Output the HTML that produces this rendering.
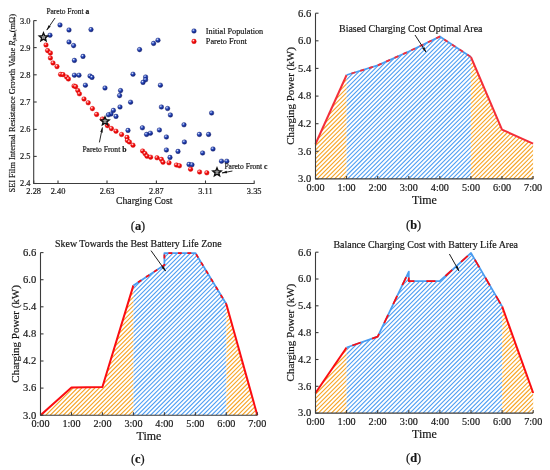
<!DOCTYPE html>
<html><head><meta charset="utf-8"><title>Figure</title>
<style>
html,body{margin:0;padding:0;background:#fff;}
body{width:550px;height:470px;overflow:hidden;}
svg{display:block;font-family:"Liberation Serif","Times New Roman",serif;fill:#151515;}
text{stroke:#151515;stroke-width:0.18px;}
.ax{stroke:#3c3c3c;stroke-width:1.1;fill:none;}
.t8{font-size:8.4px;}
.t10{font-size:10.2px;}
</style></head><body>
<svg width="550" height="470" viewBox="0 0 550 470">
<defs>
<radialGradient id="gb" cx="0.35" cy="0.3" r="0.7"><stop offset="0" stop-color="#ffffff"/><stop offset="0.18" stop-color="#8fa4e8"/><stop offset="0.45" stop-color="#2748b8"/><stop offset="1" stop-color="#101f78"/></radialGradient>
<radialGradient id="gr" cx="0.35" cy="0.3" r="0.7"><stop offset="0" stop-color="#ffffff"/><stop offset="0.18" stop-color="#ff9a9a"/><stop offset="0.45" stop-color="#f41414"/><stop offset="1" stop-color="#d40000"/></radialGradient>
<pattern id="ho" width="3.1" height="3.1" patternUnits="userSpaceOnUse" patternTransform="rotate(-45)"><rect width="3.1" height="3.1" fill="#fff"/><line x1="0" y1="1.55" x2="3.1" y2="1.55" stroke="#f3a73a" stroke-width="0.95"/></pattern>
<pattern id="hb" width="3.1" height="3.1" patternUnits="userSpaceOnUse" patternTransform="rotate(-45)"><rect width="3.1" height="3.1" fill="#fff"/><line x1="0" y1="1.55" x2="3.1" y2="1.55" stroke="#59a2ee" stroke-width="0.95"/></pattern>
<marker id="ah" markerWidth="6" markerHeight="4" refX="5" refY="2" orient="auto" markerUnits="userSpaceOnUse"><path d="M0,0.7 L5.5,2 L0,3.3 Z" fill="#111"/></marker>
</defs>
<rect width="550" height="470" fill="#fff"/>

<g id="pa">
<path class="ax" d="M33.7,20.6 V183.5 H254.5"/>
<path class="ax" d="M33.7,20.6 h3"/>
<text class="t8" x="30.5" y="23.5" text-anchor="end">3.0</text>
<path class="ax" d="M33.7,47.6 h3"/>
<text class="t8" x="30.5" y="50.5" text-anchor="end">2.9</text>
<path class="ax" d="M33.7,74.8 h3"/>
<text class="t8" x="30.5" y="77.7" text-anchor="end">2.8</text>
<path class="ax" d="M33.7,102.0 h3"/>
<text class="t8" x="30.5" y="104.9" text-anchor="end">2.7</text>
<path class="ax" d="M33.7,129.4 h3"/>
<text class="t8" x="30.5" y="132.3" text-anchor="end">2.6</text>
<path class="ax" d="M33.7,156.4 h3"/>
<text class="t8" x="30.5" y="159.3" text-anchor="end">2.5</text>
<path class="ax" d="M33.7,183.5 h3"/>
<text class="t8" x="30.5" y="186.4" text-anchor="end">2.4</text>
<path class="ax" d="M33.7,183.5 v-3"/>
<text class="t8" x="33.7" y="194.4" text-anchor="middle">2.28</text>
<path class="ax" d="M58.0,183.5 v-3"/>
<text class="t8" x="58.0" y="194.4" text-anchor="middle">2.40</text>
<path class="ax" d="M107.0,183.5 v-3"/>
<text class="t8" x="107.0" y="194.4" text-anchor="middle">2.63</text>
<path class="ax" d="M156.4,183.5 v-3"/>
<text class="t8" x="156.4" y="194.4" text-anchor="middle">2.87</text>
<path class="ax" d="M205.5,183.5 v-3"/>
<text class="t8" x="205.5" y="194.4" text-anchor="middle">3.11</text>
<path class="ax" d="M254.2,183.5 v-3"/>
<text class="t8" x="254.2" y="194.4" text-anchor="middle">3.35</text>
<text x="144.2" y="204.1" text-anchor="middle" font-size="9.75">Charging Cost</text>
<text transform="translate(14.5,192.5) rotate(-90)" font-size="7.8" textLength="178.5" lengthAdjust="spacingAndGlyphs">SEI Film Internal Resistance Growth Value <tspan font-style="italic">R</tspan><tspan font-style="italic" font-size="5" dy="1.5">film</tspan><tspan dy="-1.5">(mΩ)</tspan></text>
<circle cx="60.0" cy="25.0" r="2.3" fill="url(#gb)" stroke="#0f1c70" stroke-width="0.4"/>
<circle cx="69.0" cy="30.0" r="2.3" fill="url(#gb)" stroke="#0f1c70" stroke-width="0.4"/>
<circle cx="91.0" cy="29.6" r="2.3" fill="url(#gb)" stroke="#0f1c70" stroke-width="0.4"/>
<circle cx="50.0" cy="35.2" r="2.3" fill="url(#gb)" stroke="#0f1c70" stroke-width="0.4"/>
<circle cx="69.0" cy="42.0" r="2.3" fill="url(#gb)" stroke="#0f1c70" stroke-width="0.4"/>
<circle cx="73.6" cy="45.6" r="2.3" fill="url(#gb)" stroke="#0f1c70" stroke-width="0.4"/>
<circle cx="139.6" cy="49.6" r="2.3" fill="url(#gb)" stroke="#0f1c70" stroke-width="0.4"/>
<circle cx="83.0" cy="56.4" r="2.3" fill="url(#gb)" stroke="#0f1c70" stroke-width="0.4"/>
<circle cx="74.4" cy="60.4" r="2.3" fill="url(#gb)" stroke="#0f1c70" stroke-width="0.4"/>
<circle cx="74.4" cy="75.2" r="2.3" fill="url(#gb)" stroke="#0f1c70" stroke-width="0.4"/>
<circle cx="79.0" cy="75.2" r="2.3" fill="url(#gb)" stroke="#0f1c70" stroke-width="0.4"/>
<circle cx="90.0" cy="76.0" r="2.3" fill="url(#gb)" stroke="#0f1c70" stroke-width="0.4"/>
<circle cx="92.0" cy="77.4" r="2.3" fill="url(#gb)" stroke="#0f1c70" stroke-width="0.4"/>
<circle cx="133.0" cy="74.2" r="2.3" fill="url(#gb)" stroke="#0f1c70" stroke-width="0.4"/>
<circle cx="85.4" cy="85.2" r="2.3" fill="url(#gb)" stroke="#0f1c70" stroke-width="0.4"/>
<circle cx="105.0" cy="88.0" r="2.3" fill="url(#gb)" stroke="#0f1c70" stroke-width="0.4"/>
<circle cx="120.6" cy="90.6" r="2.3" fill="url(#gb)" stroke="#0f1c70" stroke-width="0.4"/>
<circle cx="119.6" cy="95.6" r="2.3" fill="url(#gb)" stroke="#0f1c70" stroke-width="0.4"/>
<circle cx="130.6" cy="102.2" r="2.3" fill="url(#gb)" stroke="#0f1c70" stroke-width="0.4"/>
<circle cx="120.0" cy="107.0" r="2.3" fill="url(#gb)" stroke="#0f1c70" stroke-width="0.4"/>
<circle cx="113.4" cy="110.4" r="2.3" fill="url(#gb)" stroke="#0f1c70" stroke-width="0.4"/>
<circle cx="111.0" cy="114.0" r="2.3" fill="url(#gb)" stroke="#0f1c70" stroke-width="0.4"/>
<circle cx="108.4" cy="114.8" r="2.3" fill="url(#gb)" stroke="#0f1c70" stroke-width="0.4"/>
<circle cx="116.0" cy="116.4" r="2.3" fill="url(#gb)" stroke="#0f1c70" stroke-width="0.4"/>
<circle cx="128.0" cy="130.4" r="2.3" fill="url(#gb)" stroke="#0f1c70" stroke-width="0.4"/>
<circle cx="158.0" cy="40.2" r="2.3" fill="url(#gb)" stroke="#0f1c70" stroke-width="0.4"/>
<circle cx="153.6" cy="43.4" r="2.3" fill="url(#gb)" stroke="#0f1c70" stroke-width="0.4"/>
<circle cx="145.6" cy="77.0" r="2.3" fill="url(#gb)" stroke="#0f1c70" stroke-width="0.4"/>
<circle cx="145.6" cy="79.8" r="2.3" fill="url(#gb)" stroke="#0f1c70" stroke-width="0.4"/>
<circle cx="143.0" cy="82.4" r="2.3" fill="url(#gb)" stroke="#0f1c70" stroke-width="0.4"/>
<circle cx="160.4" cy="85.2" r="2.3" fill="url(#gb)" stroke="#0f1c70" stroke-width="0.4"/>
<circle cx="161.4" cy="107.0" r="2.3" fill="url(#gb)" stroke="#0f1c70" stroke-width="0.4"/>
<circle cx="167.6" cy="108.5" r="2.3" fill="url(#gb)" stroke="#0f1c70" stroke-width="0.4"/>
<circle cx="170.4" cy="115.0" r="2.3" fill="url(#gb)" stroke="#0f1c70" stroke-width="0.4"/>
<circle cx="211.6" cy="113.0" r="2.3" fill="url(#gb)" stroke="#0f1c70" stroke-width="0.4"/>
<circle cx="184.0" cy="124.8" r="2.3" fill="url(#gb)" stroke="#0f1c70" stroke-width="0.4"/>
<circle cx="142.4" cy="127.8" r="2.3" fill="url(#gb)" stroke="#0f1c70" stroke-width="0.4"/>
<circle cx="159.4" cy="130.0" r="2.3" fill="url(#gb)" stroke="#0f1c70" stroke-width="0.4"/>
<circle cx="150.4" cy="133.2" r="2.3" fill="url(#gb)" stroke="#0f1c70" stroke-width="0.4"/>
<circle cx="146.6" cy="134.4" r="2.3" fill="url(#gb)" stroke="#0f1c70" stroke-width="0.4"/>
<circle cx="166.4" cy="137.0" r="2.3" fill="url(#gb)" stroke="#0f1c70" stroke-width="0.4"/>
<circle cx="199.4" cy="134.4" r="2.3" fill="url(#gb)" stroke="#0f1c70" stroke-width="0.4"/>
<circle cx="208.6" cy="134.4" r="2.3" fill="url(#gb)" stroke="#0f1c70" stroke-width="0.4"/>
<circle cx="184.4" cy="142.0" r="2.3" fill="url(#gb)" stroke="#0f1c70" stroke-width="0.4"/>
<circle cx="166.4" cy="150.0" r="2.3" fill="url(#gb)" stroke="#0f1c70" stroke-width="0.4"/>
<circle cx="178.0" cy="151.4" r="2.3" fill="url(#gb)" stroke="#0f1c70" stroke-width="0.4"/>
<circle cx="170.0" cy="157.4" r="2.3" fill="url(#gb)" stroke="#0f1c70" stroke-width="0.4"/>
<circle cx="213.0" cy="149.0" r="2.3" fill="url(#gb)" stroke="#0f1c70" stroke-width="0.4"/>
<circle cx="202.6" cy="153.0" r="2.3" fill="url(#gb)" stroke="#0f1c70" stroke-width="0.4"/>
<circle cx="189.0" cy="164.4" r="2.3" fill="url(#gb)" stroke="#0f1c70" stroke-width="0.4"/>
<circle cx="192.0" cy="164.8" r="2.3" fill="url(#gb)" stroke="#0f1c70" stroke-width="0.4"/>
<circle cx="221.5" cy="161.2" r="2.3" fill="url(#gb)" stroke="#0f1c70" stroke-width="0.4"/>
<circle cx="226.8" cy="161.2" r="2.3" fill="url(#gb)" stroke="#0f1c70" stroke-width="0.4"/>
<circle cx="46.0" cy="45.0" r="2.3" fill="url(#gr)" stroke="#e00000" stroke-width="0.4"/>
<circle cx="47.6" cy="50.6" r="2.3" fill="url(#gr)" stroke="#e00000" stroke-width="0.4"/>
<circle cx="50.4" cy="53.0" r="2.3" fill="url(#gr)" stroke="#e00000" stroke-width="0.4"/>
<circle cx="50.4" cy="58.0" r="2.3" fill="url(#gr)" stroke="#e00000" stroke-width="0.4"/>
<circle cx="53.0" cy="63.0" r="2.3" fill="url(#gr)" stroke="#e00000" stroke-width="0.4"/>
<circle cx="57.0" cy="66.6" r="2.3" fill="url(#gr)" stroke="#e00000" stroke-width="0.4"/>
<circle cx="60.6" cy="74.4" r="2.3" fill="url(#gr)" stroke="#e00000" stroke-width="0.4"/>
<circle cx="63.0" cy="74.6" r="2.3" fill="url(#gr)" stroke="#e00000" stroke-width="0.4"/>
<circle cx="66.6" cy="77.0" r="2.3" fill="url(#gr)" stroke="#e00000" stroke-width="0.4"/>
<circle cx="68.4" cy="79.0" r="2.3" fill="url(#gr)" stroke="#e00000" stroke-width="0.4"/>
<circle cx="74.0" cy="86.0" r="2.3" fill="url(#gr)" stroke="#e00000" stroke-width="0.4"/>
<circle cx="75.6" cy="86.6" r="2.3" fill="url(#gr)" stroke="#e00000" stroke-width="0.4"/>
<circle cx="77.8" cy="90.5" r="2.3" fill="url(#gr)" stroke="#e00000" stroke-width="0.4"/>
<circle cx="79.4" cy="93.8" r="2.3" fill="url(#gr)" stroke="#e00000" stroke-width="0.4"/>
<circle cx="84.0" cy="99.0" r="2.3" fill="url(#gr)" stroke="#e00000" stroke-width="0.4"/>
<circle cx="88.2" cy="102.8" r="2.3" fill="url(#gr)" stroke="#e00000" stroke-width="0.4"/>
<circle cx="92.4" cy="108.6" r="2.3" fill="url(#gr)" stroke="#e00000" stroke-width="0.4"/>
<circle cx="96.6" cy="114.4" r="2.3" fill="url(#gr)" stroke="#e00000" stroke-width="0.4"/>
<circle cx="102.4" cy="119.0" r="2.3" fill="url(#gr)" stroke="#e00000" stroke-width="0.4"/>
<circle cx="107.4" cy="125.6" r="2.3" fill="url(#gr)" stroke="#e00000" stroke-width="0.4"/>
<circle cx="111.4" cy="128.6" r="2.3" fill="url(#gr)" stroke="#e00000" stroke-width="0.4"/>
<circle cx="116.0" cy="131.2" r="2.3" fill="url(#gr)" stroke="#e00000" stroke-width="0.4"/>
<circle cx="121.6" cy="134.5" r="2.3" fill="url(#gr)" stroke="#e00000" stroke-width="0.4"/>
<circle cx="127.0" cy="137.4" r="2.3" fill="url(#gr)" stroke="#e00000" stroke-width="0.4"/>
<circle cx="127.4" cy="140.5" r="2.3" fill="url(#gr)" stroke="#e00000" stroke-width="0.4"/>
<circle cx="129.4" cy="142.0" r="2.3" fill="url(#gr)" stroke="#e00000" stroke-width="0.4"/>
<circle cx="133.0" cy="145.2" r="2.3" fill="url(#gr)" stroke="#e00000" stroke-width="0.4"/>
<circle cx="142.6" cy="151.0" r="2.3" fill="url(#gr)" stroke="#e00000" stroke-width="0.4"/>
<circle cx="145.0" cy="153.6" r="2.3" fill="url(#gr)" stroke="#e00000" stroke-width="0.4"/>
<circle cx="147.0" cy="156.2" r="2.3" fill="url(#gr)" stroke="#e00000" stroke-width="0.4"/>
<circle cx="150.6" cy="157.2" r="2.3" fill="url(#gr)" stroke="#e00000" stroke-width="0.4"/>
<circle cx="157.0" cy="157.8" r="2.3" fill="url(#gr)" stroke="#e00000" stroke-width="0.4"/>
<circle cx="161.4" cy="159.4" r="2.3" fill="url(#gr)" stroke="#e00000" stroke-width="0.4"/>
<circle cx="163.0" cy="162.2" r="2.3" fill="url(#gr)" stroke="#e00000" stroke-width="0.4"/>
<circle cx="169.0" cy="162.8" r="2.3" fill="url(#gr)" stroke="#e00000" stroke-width="0.4"/>
<circle cx="176.4" cy="165.0" r="2.3" fill="url(#gr)" stroke="#e00000" stroke-width="0.4"/>
<circle cx="179.4" cy="165.8" r="2.3" fill="url(#gr)" stroke="#e00000" stroke-width="0.4"/>
<circle cx="190.6" cy="169.2" r="2.3" fill="url(#gr)" stroke="#e00000" stroke-width="0.4"/>
<circle cx="199.6" cy="172.0" r="2.3" fill="url(#gr)" stroke="#e00000" stroke-width="0.4"/>
<circle cx="206.8" cy="172.8" r="2.3" fill="url(#gr)" stroke="#e00000" stroke-width="0.4"/>
<polygon points="43.50,33.05 44.62,35.76 47.54,35.99 45.31,37.89 46.00,40.74 43.50,39.20 41.00,40.74 41.69,37.89 39.46,35.99 42.38,35.76" fill="#fff" stroke="#111" stroke-width="1.5" stroke-linejoin="miter"/>
<polygon points="43.50,35.10 44.09,36.49 45.59,36.62 44.45,37.61 44.79,39.08 43.50,38.30 42.21,39.08 42.55,37.61 41.41,36.62 42.91,36.49" fill="#8a8a8a" stroke="none"/>
<polygon points="105.00,117.05 106.12,119.76 109.04,119.99 106.81,121.89 107.50,124.74 105.00,123.20 102.50,124.74 103.19,121.89 100.96,119.99 103.88,119.76" fill="#fff" stroke="#111" stroke-width="1.5" stroke-linejoin="miter"/>
<polygon points="105.00,119.10 105.59,120.49 107.09,120.62 105.95,121.61 106.29,123.08 105.00,122.30 103.71,123.08 104.05,121.61 102.91,120.62 104.41,120.49" fill="#8a8a8a" stroke="none"/>
<polygon points="217.00,168.05 218.12,170.76 221.04,170.99 218.81,172.89 219.50,175.74 217.00,174.20 214.50,175.74 215.19,172.89 212.96,170.99 215.88,170.76" fill="#fff" stroke="#111" stroke-width="1.5" stroke-linejoin="miter"/>
<polygon points="217.00,170.10 217.59,171.49 219.09,171.62 217.95,172.61 218.29,174.08 217.00,173.30 215.71,174.08 216.05,172.61 214.91,171.62 216.41,171.49" fill="#8a8a8a" stroke="none"/>
<circle cx="194" cy="31" r="2.3" fill="url(#gb)" stroke="#0f1c70" stroke-width="0.4"/><circle cx="194" cy="41.4" r="2.3" fill="url(#gr)" stroke="#e00000" stroke-width="0.4"/>
<text class="t8" x="205.8" y="34.2" textLength="57.4" lengthAdjust="spacingAndGlyphs">Initial Population</text><text class="t8" x="205.8" y="44.4" textLength="41.1" lengthAdjust="spacingAndGlyphs">Pareto Front</text>
<text x="46.4" y="14" font-size="7.3" textLength="42.8" lengthAdjust="spacingAndGlyphs">Pareto Front <tspan font-weight="bold">a</tspan></text>
<line x1="55" y1="18" x2="46.8" y2="30" stroke="#111" stroke-width="0.9" marker-end="url(#ah)"/>
<text x="82.4" y="151.6" font-size="7.3" textLength="44" lengthAdjust="spacingAndGlyphs">Pareto Front <tspan font-weight="bold">b</tspan></text>
<line x1="99.4" y1="142.4" x2="102.4" y2="127.5" stroke="#111" stroke-width="0.9" marker-end="url(#ah)"/>
<text x="224.4" y="168.5" font-size="7.3" textLength="43" lengthAdjust="spacingAndGlyphs">Pareto Front <tspan font-weight="bold">c</tspan></text>
<line x1="232.4" y1="171" x2="222" y2="173" stroke="#111" stroke-width="0.9" marker-end="url(#ah)"/>
<text x="138" y="229.5" text-anchor="middle" font-size="12.4">(<tspan font-weight="bold">a</tspan>)</text>
</g>
<g id="pb">
<clipPath id="pb_c0"><path d="M315.5,178.9 L315.5,144.0 L346.6,75.0 L346.6,178.9 Z"/></clipPath>
<path d="M172.20,179.90 L318.50,33.60 M176.56,179.90 L322.86,33.60 M180.92,179.90 L327.22,33.60 M185.28,179.90 L331.58,33.60 M189.64,179.90 L335.94,33.60 M194.00,179.90 L340.30,33.60 M198.36,179.90 L344.66,33.60 M202.72,179.90 L349.02,33.60 M207.08,179.90 L353.38,33.60 M211.44,179.90 L357.74,33.60 M215.80,179.90 L362.10,33.60 M220.16,179.90 L366.46,33.60 M224.52,179.90 L370.82,33.60 M228.88,179.90 L375.18,33.60 M233.24,179.90 L379.54,33.60 M237.60,179.90 L383.90,33.60 M241.96,179.90 L388.26,33.60 M246.32,179.90 L392.62,33.60 M250.68,179.90 L396.98,33.60 M255.04,179.90 L401.34,33.60 M259.40,179.90 L405.70,33.60 M263.76,179.90 L410.06,33.60 M268.12,179.90 L414.42,33.60 M272.48,179.90 L418.78,33.60 M276.84,179.90 L423.14,33.60 M281.20,179.90 L427.50,33.60 M285.56,179.90 L431.86,33.60 M289.92,179.90 L436.22,33.60 M294.28,179.90 L440.58,33.60 M298.64,179.90 L444.94,33.60 M303.00,179.90 L449.30,33.60 M307.36,179.90 L453.66,33.60 M311.72,179.90 L458.02,33.60 M316.08,179.90 L462.38,33.60 M320.44,179.90 L466.74,33.60 M324.80,179.90 L471.10,33.60 M329.16,179.90 L475.46,33.60 M333.52,179.90 L479.82,33.60 M337.88,179.90 L484.18,33.60 M342.24,179.90 L488.54,33.60 M346.60,179.90 L492.90,33.60" clip-path="url(#pb_c0)" stroke="#f5a325" stroke-width="1.10" fill="none"/>
<clipPath id="pb_c1"><path d="M346.6,178.9 L346.6,75.0 L377.7,65.4 L408.8,51.5 L439.8,36.6 L470.9,57.0 L470.9,178.9 Z"/></clipPath>
<path d="M202.72,179.90 L349.02,33.60 M207.08,179.90 L353.38,33.60 M211.44,179.90 L357.74,33.60 M215.80,179.90 L362.10,33.60 M220.16,179.90 L366.46,33.60 M224.52,179.90 L370.82,33.60 M228.88,179.90 L375.18,33.60 M233.24,179.90 L379.54,33.60 M237.60,179.90 L383.90,33.60 M241.96,179.90 L388.26,33.60 M246.32,179.90 L392.62,33.60 M250.68,179.90 L396.98,33.60 M255.04,179.90 L401.34,33.60 M259.40,179.90 L405.70,33.60 M263.76,179.90 L410.06,33.60 M268.12,179.90 L414.42,33.60 M272.48,179.90 L418.78,33.60 M276.84,179.90 L423.14,33.60 M281.20,179.90 L427.50,33.60 M285.56,179.90 L431.86,33.60 M289.92,179.90 L436.22,33.60 M294.28,179.90 L440.58,33.60 M298.64,179.90 L444.94,33.60 M303.00,179.90 L449.30,33.60 M307.36,179.90 L453.66,33.60 M311.72,179.90 L458.02,33.60 M316.08,179.90 L462.38,33.60 M320.44,179.90 L466.74,33.60 M324.80,179.90 L471.10,33.60 M329.16,179.90 L475.46,33.60 M333.52,179.90 L479.82,33.60 M337.88,179.90 L484.18,33.60 M342.24,179.90 L488.54,33.60 M346.60,179.90 L492.90,33.60 M350.96,179.90 L497.26,33.60 M355.32,179.90 L501.62,33.60 M359.68,179.90 L505.98,33.60 M364.04,179.90 L510.34,33.60 M368.40,179.90 L514.70,33.60 M372.76,179.90 L519.06,33.60 M377.12,179.90 L523.42,33.60 M381.48,179.90 L527.78,33.60 M385.84,179.90 L532.14,33.60 M390.20,179.90 L536.50,33.60 M394.56,179.90 L540.86,33.60 M398.92,179.90 L545.22,33.60 M403.28,179.90 L549.58,33.60 M407.64,179.90 L553.94,33.60 M412.00,179.90 L558.30,33.60 M416.36,179.90 L562.66,33.60 M420.72,179.90 L567.02,33.60 M425.08,179.90 L571.38,33.60 M429.44,179.90 L575.74,33.60 M433.80,179.90 L580.10,33.60 M438.16,179.90 L584.46,33.60 M442.52,179.90 L588.82,33.60 M446.88,179.90 L593.18,33.60 M451.24,179.90 L597.54,33.60 M455.60,179.90 L601.90,33.60 M459.96,179.90 L606.26,33.60 M464.32,179.90 L610.62,33.60 M468.68,179.90 L614.98,33.60 M473.04,179.90 L619.34,33.60" clip-path="url(#pb_c1)" stroke="#4f9ef2" stroke-width="1.10" fill="none"/>
<clipPath id="pb_c2"><path d="M470.9,178.9 L470.9,57.0 L502.0,129.6 L533.1,143.6 L533.1,178.9 Z"/></clipPath>
<path d="M324.80,179.90 L471.10,33.60 M329.16,179.90 L475.46,33.60 M333.52,179.90 L479.82,33.60 M337.88,179.90 L484.18,33.60 M342.24,179.90 L488.54,33.60 M346.60,179.90 L492.90,33.60 M350.96,179.90 L497.26,33.60 M355.32,179.90 L501.62,33.60 M359.68,179.90 L505.98,33.60 M364.04,179.90 L510.34,33.60 M368.40,179.90 L514.70,33.60 M372.76,179.90 L519.06,33.60 M377.12,179.90 L523.42,33.60 M381.48,179.90 L527.78,33.60 M385.84,179.90 L532.14,33.60 M390.20,179.90 L536.50,33.60 M394.56,179.90 L540.86,33.60 M398.92,179.90 L545.22,33.60 M403.28,179.90 L549.58,33.60 M407.64,179.90 L553.94,33.60 M412.00,179.90 L558.30,33.60 M416.36,179.90 L562.66,33.60 M420.72,179.90 L567.02,33.60 M425.08,179.90 L571.38,33.60 M429.44,179.90 L575.74,33.60 M433.80,179.90 L580.10,33.60 M438.16,179.90 L584.46,33.60 M442.52,179.90 L588.82,33.60 M446.88,179.90 L593.18,33.60 M451.24,179.90 L597.54,33.60 M455.60,179.90 L601.90,33.60 M459.96,179.90 L606.26,33.60 M464.32,179.90 L610.62,33.60 M468.68,179.90 L614.98,33.60 M473.04,179.90 L619.34,33.60 M477.40,179.90 L623.70,33.60 M481.76,179.90 L628.06,33.60 M486.12,179.90 L632.42,33.60 M490.48,179.90 L636.78,33.60 M494.84,179.90 L641.14,33.60 M499.20,179.90 L645.50,33.60 M503.56,179.90 L649.86,33.60 M507.92,179.90 L654.22,33.60 M512.28,179.90 L658.58,33.60 M516.64,179.90 L662.94,33.60 M521.00,179.90 L667.30,33.60 M525.36,179.90 L671.66,33.60 M529.72,179.90 L676.02,33.60 M534.08,179.90 L680.38,33.60" clip-path="url(#pb_c2)" stroke="#f5a325" stroke-width="1.10" fill="none"/>
<path d="M315.5,144.0 L346.6,75.0" fill="none" stroke="#f42f3a" stroke-width="2" stroke-linejoin="round"/>
<path d="M470.9,57.0 L502.0,129.6 L533.1,143.6" fill="none" stroke="#f42f3a" stroke-width="2" stroke-linejoin="round"/>
<path d="M346.6,75.0 L377.7,65.4 L408.8,51.5 L439.8,36.6 L470.9,57.0" fill="none" stroke="#4a9cf0" stroke-width="1.75" stroke-linejoin="round"/>
<path d="M346.6,75.0 L377.7,65.4 L408.8,51.5 L439.8,36.6 L470.9,57.0" fill="none" stroke="#f42f3a" stroke-width="1.75" stroke-dasharray="4.2 5" stroke-dashoffset="4.2" stroke-linejoin="round"/>
<path class="ax" d="M315.5,13.2 V178.9 H533.1"/>
<path class="ax" d="M315.5,13.2 h3"/>
<text class="t10" x="298.1" y="16.5" textLength="13.2" lengthAdjust="spacingAndGlyphs">6.6</text>
<path class="ax" d="M315.5,40.8 h3"/>
<text class="t10" x="298.1" y="44.1" textLength="13.2" lengthAdjust="spacingAndGlyphs">6.0</text>
<path class="ax" d="M315.5,68.4 h3"/>
<text class="t10" x="298.1" y="71.7" textLength="13.2" lengthAdjust="spacingAndGlyphs">5.4</text>
<path class="ax" d="M315.5,96.1 h3"/>
<text class="t10" x="298.1" y="99.4" textLength="13.2" lengthAdjust="spacingAndGlyphs">4.8</text>
<path class="ax" d="M315.5,123.7 h3"/>
<text class="t10" x="298.1" y="127.0" textLength="13.2" lengthAdjust="spacingAndGlyphs">4.2</text>
<path class="ax" d="M315.5,151.3 h3"/>
<text class="t10" x="298.1" y="154.6" textLength="13.2" lengthAdjust="spacingAndGlyphs">3.6</text>
<path class="ax" d="M315.5,178.9 h3"/>
<text class="t10" x="298.1" y="182.2" textLength="13.2" lengthAdjust="spacingAndGlyphs">3.0</text>
<path class="ax" d="M315.5,178.9 v-3"/>
<text class="t10" x="306.4" y="191.0" textLength="18.1" lengthAdjust="spacingAndGlyphs">0:00</text>
<path class="ax" d="M346.6,178.9 v-3"/>
<text class="t10" x="337.5" y="191.0" textLength="18.1" lengthAdjust="spacingAndGlyphs">1:00</text>
<path class="ax" d="M377.7,178.9 v-3"/>
<text class="t10" x="368.6" y="191.0" textLength="18.1" lengthAdjust="spacingAndGlyphs">2:00</text>
<path class="ax" d="M408.8,178.9 v-3"/>
<text class="t10" x="399.7" y="191.0" textLength="18.1" lengthAdjust="spacingAndGlyphs">3:00</text>
<path class="ax" d="M439.8,178.9 v-3"/>
<text class="t10" x="430.8" y="191.0" textLength="18.1" lengthAdjust="spacingAndGlyphs">4:00</text>
<path class="ax" d="M470.9,178.9 v-3"/>
<text class="t10" x="461.9" y="191.0" textLength="18.1" lengthAdjust="spacingAndGlyphs">5:00</text>
<path class="ax" d="M502.0,178.9 v-3"/>
<text class="t10" x="493.0" y="191.0" textLength="18.1" lengthAdjust="spacingAndGlyphs">6:00</text>
<path class="ax" d="M533.1,178.9 v-3"/>
<text class="t10" x="524.1" y="191.0" textLength="18.1" lengthAdjust="spacingAndGlyphs">7:00</text>
<text x="412.0" y="203.9" font-size="11.8" textLength="24.8" lengthAdjust="spacingAndGlyphs">Time</text>
<text transform="translate(293.8,144.8) rotate(-90)" font-size="11" textLength="97.6" lengthAdjust="spacingAndGlyphs">Charging Power (kW)</text>
<text x="339.0" y="31.6" font-size="9.9" textLength="143.5" lengthAdjust="spacingAndGlyphs" stroke="#1a1a1a" stroke-width="0.10">Biased Charging Cost Optimal Area</text>
<line x1="415.0" y1="35.0" x2="426.0" y2="52.0" stroke="#111" stroke-width="0.95" marker-end="url(#ah)"/>
<text x="413.6" y="228.6" text-anchor="middle" font-size="12.4">(<tspan font-weight="bold">b</tspan>)</text>
</g>
<g id="pc">
<clipPath id="pc_c0"><path d="M40.5,415.2 L40.5,415.2 L71.5,387.4 L102.4,387.0 L133.4,285.4 L133.4,415.2 Z"/></clipPath>
<path d="M-125.14,416.20 L41.06,250.00 M-120.78,416.20 L45.42,250.00 M-116.42,416.20 L49.78,250.00 M-112.06,416.20 L54.14,250.00 M-107.70,416.20 L58.50,250.00 M-103.34,416.20 L62.86,250.00 M-98.98,416.20 L67.22,250.00 M-94.62,416.20 L71.58,250.00 M-90.26,416.20 L75.94,250.00 M-85.90,416.20 L80.30,250.00 M-81.54,416.20 L84.66,250.00 M-77.18,416.20 L89.02,250.00 M-72.82,416.20 L93.38,250.00 M-68.46,416.20 L97.74,250.00 M-64.10,416.20 L102.10,250.00 M-59.74,416.20 L106.46,250.00 M-55.38,416.20 L110.82,250.00 M-51.02,416.20 L115.18,250.00 M-46.66,416.20 L119.54,250.00 M-42.30,416.20 L123.90,250.00 M-37.94,416.20 L128.26,250.00 M-33.58,416.20 L132.62,250.00 M-29.22,416.20 L136.98,250.00 M-24.86,416.20 L141.34,250.00 M-20.50,416.20 L145.70,250.00 M-16.14,416.20 L150.06,250.00 M-11.78,416.20 L154.42,250.00 M-7.42,416.20 L158.78,250.00 M-3.06,416.20 L163.14,250.00 M1.30,416.20 L167.50,250.00 M5.66,416.20 L171.86,250.00 M10.02,416.20 L176.22,250.00 M14.38,416.20 L180.58,250.00 M18.74,416.20 L184.94,250.00 M23.10,416.20 L189.30,250.00 M27.46,416.20 L193.66,250.00 M31.82,416.20 L198.02,250.00 M36.18,416.20 L202.38,250.00 M40.54,416.20 L206.74,250.00 M44.90,416.20 L211.10,250.00 M49.26,416.20 L215.46,250.00 M53.62,416.20 L219.82,250.00 M57.98,416.20 L224.18,250.00 M62.34,416.20 L228.54,250.00 M66.70,416.20 L232.90,250.00 M71.06,416.20 L237.26,250.00 M75.42,416.20 L241.62,250.00 M79.78,416.20 L245.98,250.00 M84.14,416.20 L250.34,250.00 M88.50,416.20 L254.70,250.00 M92.86,416.20 L259.06,250.00 M97.22,416.20 L263.42,250.00 M101.58,416.20 L267.78,250.00 M105.94,416.20 L272.14,250.00 M110.30,416.20 L276.50,250.00 M114.66,416.20 L280.86,250.00 M119.02,416.20 L285.22,250.00 M123.38,416.20 L289.58,250.00 M127.74,416.20 L293.94,250.00 M132.10,416.20 L298.30,250.00 M136.46,416.20 L302.66,250.00" clip-path="url(#pc_c0)" stroke="#f5a325" stroke-width="1.10" fill="none"/>
<clipPath id="pc_c1"><path d="M133.4,415.2 L133.4,285.4 L164.4,265.0 L164.4,253.0 L195.4,253.0 L226.3,304.0 L226.3,415.2 Z"/></clipPath>
<path d="M-29.22,416.20 L136.98,250.00 M-24.86,416.20 L141.34,250.00 M-20.50,416.20 L145.70,250.00 M-16.14,416.20 L150.06,250.00 M-11.78,416.20 L154.42,250.00 M-7.42,416.20 L158.78,250.00 M-3.06,416.20 L163.14,250.00 M1.30,416.20 L167.50,250.00 M5.66,416.20 L171.86,250.00 M10.02,416.20 L176.22,250.00 M14.38,416.20 L180.58,250.00 M18.74,416.20 L184.94,250.00 M23.10,416.20 L189.30,250.00 M27.46,416.20 L193.66,250.00 M31.82,416.20 L198.02,250.00 M36.18,416.20 L202.38,250.00 M40.54,416.20 L206.74,250.00 M44.90,416.20 L211.10,250.00 M49.26,416.20 L215.46,250.00 M53.62,416.20 L219.82,250.00 M57.98,416.20 L224.18,250.00 M62.34,416.20 L228.54,250.00 M66.70,416.20 L232.90,250.00 M71.06,416.20 L237.26,250.00 M75.42,416.20 L241.62,250.00 M79.78,416.20 L245.98,250.00 M84.14,416.20 L250.34,250.00 M88.50,416.20 L254.70,250.00 M92.86,416.20 L259.06,250.00 M97.22,416.20 L263.42,250.00 M101.58,416.20 L267.78,250.00 M105.94,416.20 L272.14,250.00 M110.30,416.20 L276.50,250.00 M114.66,416.20 L280.86,250.00 M119.02,416.20 L285.22,250.00 M123.38,416.20 L289.58,250.00 M127.74,416.20 L293.94,250.00 M132.10,416.20 L298.30,250.00 M136.46,416.20 L302.66,250.00 M140.82,416.20 L307.02,250.00 M145.18,416.20 L311.38,250.00 M149.54,416.20 L315.74,250.00 M153.90,416.20 L320.10,250.00 M158.26,416.20 L324.46,250.00 M162.62,416.20 L328.82,250.00 M166.98,416.20 L333.18,250.00 M171.34,416.20 L337.54,250.00 M175.70,416.20 L341.90,250.00 M180.06,416.20 L346.26,250.00 M184.42,416.20 L350.62,250.00 M188.78,416.20 L354.98,250.00 M193.14,416.20 L359.34,250.00 M197.50,416.20 L363.70,250.00 M201.86,416.20 L368.06,250.00 M206.22,416.20 L372.42,250.00 M210.58,416.20 L376.78,250.00 M214.94,416.20 L381.14,250.00 M219.30,416.20 L385.50,250.00 M223.66,416.20 L389.86,250.00 M228.02,416.20 L394.22,250.00" clip-path="url(#pc_c1)" stroke="#4f9ef2" stroke-width="1.10" fill="none"/>
<clipPath id="pc_c2"><path d="M226.3,415.2 L226.3,304.0 L257.3,415.2 L257.3,415.2 Z"/></clipPath>
<path d="M62.34,416.20 L228.54,250.00 M66.70,416.20 L232.90,250.00 M71.06,416.20 L237.26,250.00 M75.42,416.20 L241.62,250.00 M79.78,416.20 L245.98,250.00 M84.14,416.20 L250.34,250.00 M88.50,416.20 L254.70,250.00 M92.86,416.20 L259.06,250.00 M97.22,416.20 L263.42,250.00 M101.58,416.20 L267.78,250.00 M105.94,416.20 L272.14,250.00 M110.30,416.20 L276.50,250.00 M114.66,416.20 L280.86,250.00 M119.02,416.20 L285.22,250.00 M123.38,416.20 L289.58,250.00 M127.74,416.20 L293.94,250.00 M132.10,416.20 L298.30,250.00 M136.46,416.20 L302.66,250.00 M140.82,416.20 L307.02,250.00 M145.18,416.20 L311.38,250.00 M149.54,416.20 L315.74,250.00 M153.90,416.20 L320.10,250.00 M158.26,416.20 L324.46,250.00 M162.62,416.20 L328.82,250.00 M166.98,416.20 L333.18,250.00 M171.34,416.20 L337.54,250.00 M175.70,416.20 L341.90,250.00 M180.06,416.20 L346.26,250.00 M184.42,416.20 L350.62,250.00 M188.78,416.20 L354.98,250.00 M193.14,416.20 L359.34,250.00 M197.50,416.20 L363.70,250.00 M201.86,416.20 L368.06,250.00 M206.22,416.20 L372.42,250.00 M210.58,416.20 L376.78,250.00 M214.94,416.20 L381.14,250.00 M219.30,416.20 L385.50,250.00 M223.66,416.20 L389.86,250.00 M228.02,416.20 L394.22,250.00 M232.38,416.20 L398.58,250.00 M236.74,416.20 L402.94,250.00 M241.10,416.20 L407.30,250.00 M245.46,416.20 L411.66,250.00 M249.82,416.20 L416.02,250.00 M254.18,416.20 L420.38,250.00 M258.54,416.20 L424.74,250.00" clip-path="url(#pc_c2)" stroke="#f5a325" stroke-width="1.10" fill="none"/>
<path d="M40.5,415.2 L71.5,387.4 L102.4,387.0 L133.4,285.4" fill="none" stroke="#fb0d12" stroke-width="2" stroke-linejoin="round"/>
<path d="M226.3,304.0 L257.3,415.2" fill="none" stroke="#fb0d12" stroke-width="2" stroke-linejoin="round"/>
<path d="M133.4,285.4 L164.4,265.0 L164.4,253.0 L195.4,253.0 L226.3,304.0" fill="none" stroke="#4a9cf0" stroke-width="1.75" stroke-linejoin="round"/>
<path d="M133.4,285.4 L164.4,265.0 L164.4,253.0 L195.4,253.0 L226.3,304.0" fill="none" stroke="#fb0d12" stroke-width="1.75" stroke-dasharray="3.9 5.6" stroke-dashoffset="3.9" stroke-linejoin="round"/>
<path class="ax" d="M40.5,252.6 V415.2 H257.3"/>
<path class="ax" d="M40.5,252.6 h3"/>
<text class="t10" x="23.1" y="255.9" textLength="13.2" lengthAdjust="spacingAndGlyphs">6.6</text>
<path class="ax" d="M40.5,279.7 h3"/>
<text class="t10" x="23.1" y="283.0" textLength="13.2" lengthAdjust="spacingAndGlyphs">6.0</text>
<path class="ax" d="M40.5,306.8 h3"/>
<text class="t10" x="23.1" y="310.1" textLength="13.2" lengthAdjust="spacingAndGlyphs">5.4</text>
<path class="ax" d="M40.5,333.9 h3"/>
<text class="t10" x="23.1" y="337.2" textLength="13.2" lengthAdjust="spacingAndGlyphs">4.8</text>
<path class="ax" d="M40.5,361.0 h3"/>
<text class="t10" x="23.1" y="364.3" textLength="13.2" lengthAdjust="spacingAndGlyphs">4.2</text>
<path class="ax" d="M40.5,388.1 h3"/>
<text class="t10" x="23.1" y="391.4" textLength="13.2" lengthAdjust="spacingAndGlyphs">3.6</text>
<path class="ax" d="M40.5,415.2 h3"/>
<text class="t10" x="23.1" y="418.5" textLength="13.2" lengthAdjust="spacingAndGlyphs">3.0</text>
<path class="ax" d="M40.5,415.2 v-3"/>
<text class="t10" x="31.4" y="427.1" textLength="18.1" lengthAdjust="spacingAndGlyphs">0:00</text>
<path class="ax" d="M71.5,415.2 v-3"/>
<text class="t10" x="62.4" y="427.1" textLength="18.1" lengthAdjust="spacingAndGlyphs">1:00</text>
<path class="ax" d="M102.4,415.2 v-3"/>
<text class="t10" x="93.4" y="427.1" textLength="18.1" lengthAdjust="spacingAndGlyphs">2:00</text>
<path class="ax" d="M133.4,415.2 v-3"/>
<text class="t10" x="124.4" y="427.1" textLength="18.1" lengthAdjust="spacingAndGlyphs">3:00</text>
<path class="ax" d="M164.4,415.2 v-3"/>
<text class="t10" x="155.3" y="427.1" textLength="18.1" lengthAdjust="spacingAndGlyphs">4:00</text>
<path class="ax" d="M195.4,415.2 v-3"/>
<text class="t10" x="186.3" y="427.1" textLength="18.1" lengthAdjust="spacingAndGlyphs">5:00</text>
<path class="ax" d="M226.3,415.2 v-3"/>
<text class="t10" x="217.3" y="427.1" textLength="18.1" lengthAdjust="spacingAndGlyphs">6:00</text>
<path class="ax" d="M257.3,415.2 v-3"/>
<text class="t10" x="248.2" y="427.1" textLength="18.1" lengthAdjust="spacingAndGlyphs">7:00</text>
<text x="136.6" y="440.3" font-size="11.8" textLength="24.8" lengthAdjust="spacingAndGlyphs">Time</text>
<text transform="translate(18.8,382.7) rotate(-90)" font-size="11" textLength="97.6" lengthAdjust="spacingAndGlyphs">Charging Power (kW)</text>
<text x="55.0" y="246.9" font-size="9.9" textLength="166.6" lengthAdjust="spacingAndGlyphs" stroke="#1a1a1a" stroke-width="0.25">Skew Towards the Best Battery Life Zone</text>
<line x1="151.0" y1="250.6" x2="165.6" y2="271.0" stroke="#111" stroke-width="0.95" marker-end="url(#ah)"/>
<text x="137.8" y="463.0" text-anchor="middle" font-size="12.4">(<tspan font-weight="bold">c</tspan>)</text>
</g>
<g id="pd">
<clipPath id="pd_c0"><path d="M315.5,413.1 L315.5,393.0 L346.6,347.5 L346.6,413.1 Z"/></clipPath>
<path d="M151.64,414.10 L315.74,250.00 M156.00,414.10 L320.10,250.00 M160.36,414.10 L324.46,250.00 M164.72,414.10 L328.82,250.00 M169.08,414.10 L333.18,250.00 M173.44,414.10 L337.54,250.00 M177.80,414.10 L341.90,250.00 M182.16,414.10 L346.26,250.00 M186.52,414.10 L350.62,250.00 M190.88,414.10 L354.98,250.00 M195.24,414.10 L359.34,250.00 M199.60,414.10 L363.70,250.00 M203.96,414.10 L368.06,250.00 M208.32,414.10 L372.42,250.00 M212.68,414.10 L376.78,250.00 M217.04,414.10 L381.14,250.00 M221.40,414.10 L385.50,250.00 M225.76,414.10 L389.86,250.00 M230.12,414.10 L394.22,250.00 M234.48,414.10 L398.58,250.00 M238.84,414.10 L402.94,250.00 M243.20,414.10 L407.30,250.00 M247.56,414.10 L411.66,250.00 M251.92,414.10 L416.02,250.00 M256.28,414.10 L420.38,250.00 M260.64,414.10 L424.74,250.00 M265.00,414.10 L429.10,250.00 M269.36,414.10 L433.46,250.00 M273.72,414.10 L437.82,250.00 M278.08,414.10 L442.18,250.00 M282.44,414.10 L446.54,250.00 M286.80,414.10 L450.90,250.00 M291.16,414.10 L455.26,250.00 M295.52,414.10 L459.62,250.00 M299.88,414.10 L463.98,250.00 M304.24,414.10 L468.34,250.00 M308.60,414.10 L472.70,250.00 M312.96,414.10 L477.06,250.00 M317.32,414.10 L481.42,250.00 M321.68,414.10 L485.78,250.00 M326.04,414.10 L490.14,250.00 M330.40,414.10 L494.50,250.00 M334.76,414.10 L498.86,250.00 M339.12,414.10 L503.22,250.00 M343.48,414.10 L507.58,250.00 M347.84,414.10 L511.94,250.00" clip-path="url(#pd_c0)" stroke="#f5a325" stroke-width="1.10" fill="none"/>
<clipPath id="pd_c1"><path d="M346.6,413.1 L346.6,347.5 L377.7,336.6 L408.8,271.6 L408.8,281.0 L439.9,281.0 L471.0,253.0 L502.1,306.4 L502.1,413.1 Z"/></clipPath>
<path d="M186.52,414.10 L350.62,250.00 M190.88,414.10 L354.98,250.00 M195.24,414.10 L359.34,250.00 M199.60,414.10 L363.70,250.00 M203.96,414.10 L368.06,250.00 M208.32,414.10 L372.42,250.00 M212.68,414.10 L376.78,250.00 M217.04,414.10 L381.14,250.00 M221.40,414.10 L385.50,250.00 M225.76,414.10 L389.86,250.00 M230.12,414.10 L394.22,250.00 M234.48,414.10 L398.58,250.00 M238.84,414.10 L402.94,250.00 M243.20,414.10 L407.30,250.00 M247.56,414.10 L411.66,250.00 M251.92,414.10 L416.02,250.00 M256.28,414.10 L420.38,250.00 M260.64,414.10 L424.74,250.00 M265.00,414.10 L429.10,250.00 M269.36,414.10 L433.46,250.00 M273.72,414.10 L437.82,250.00 M278.08,414.10 L442.18,250.00 M282.44,414.10 L446.54,250.00 M286.80,414.10 L450.90,250.00 M291.16,414.10 L455.26,250.00 M295.52,414.10 L459.62,250.00 M299.88,414.10 L463.98,250.00 M304.24,414.10 L468.34,250.00 M308.60,414.10 L472.70,250.00 M312.96,414.10 L477.06,250.00 M317.32,414.10 L481.42,250.00 M321.68,414.10 L485.78,250.00 M326.04,414.10 L490.14,250.00 M330.40,414.10 L494.50,250.00 M334.76,414.10 L498.86,250.00 M339.12,414.10 L503.22,250.00 M343.48,414.10 L507.58,250.00 M347.84,414.10 L511.94,250.00 M352.20,414.10 L516.30,250.00 M356.56,414.10 L520.66,250.00 M360.92,414.10 L525.02,250.00 M365.28,414.10 L529.38,250.00 M369.64,414.10 L533.74,250.00 M374.00,414.10 L538.10,250.00 M378.36,414.10 L542.46,250.00 M382.72,414.10 L546.82,250.00 M387.08,414.10 L551.18,250.00 M391.44,414.10 L555.54,250.00 M395.80,414.10 L559.90,250.00 M400.16,414.10 L564.26,250.00 M404.52,414.10 L568.62,250.00 M408.88,414.10 L572.98,250.00 M413.24,414.10 L577.34,250.00 M417.60,414.10 L581.70,250.00 M421.96,414.10 L586.06,250.00 M426.32,414.10 L590.42,250.00 M430.68,414.10 L594.78,250.00 M435.04,414.10 L599.14,250.00 M439.40,414.10 L603.50,250.00 M443.76,414.10 L607.86,250.00 M448.12,414.10 L612.22,250.00 M452.48,414.10 L616.58,250.00 M456.84,414.10 L620.94,250.00 M461.20,414.10 L625.30,250.00 M465.56,414.10 L629.66,250.00 M469.92,414.10 L634.02,250.00 M474.28,414.10 L638.38,250.00 M478.64,414.10 L642.74,250.00 M483.00,414.10 L647.10,250.00 M487.36,414.10 L651.46,250.00 M491.72,414.10 L655.82,250.00 M496.08,414.10 L660.18,250.00 M500.44,414.10 L664.54,250.00 M504.80,414.10 L668.90,250.00" clip-path="url(#pd_c1)" stroke="#4f9ef2" stroke-width="1.10" fill="none"/>
<clipPath id="pd_c2"><path d="M502.1,413.1 L502.1,306.4 L533.2,393.0 L533.2,413.1 Z"/></clipPath>
<path d="M339.12,414.10 L503.22,250.00 M343.48,414.10 L507.58,250.00 M347.84,414.10 L511.94,250.00 M352.20,414.10 L516.30,250.00 M356.56,414.10 L520.66,250.00 M360.92,414.10 L525.02,250.00 M365.28,414.10 L529.38,250.00 M369.64,414.10 L533.74,250.00 M374.00,414.10 L538.10,250.00 M378.36,414.10 L542.46,250.00 M382.72,414.10 L546.82,250.00 M387.08,414.10 L551.18,250.00 M391.44,414.10 L555.54,250.00 M395.80,414.10 L559.90,250.00 M400.16,414.10 L564.26,250.00 M404.52,414.10 L568.62,250.00 M408.88,414.10 L572.98,250.00 M413.24,414.10 L577.34,250.00 M417.60,414.10 L581.70,250.00 M421.96,414.10 L586.06,250.00 M426.32,414.10 L590.42,250.00 M430.68,414.10 L594.78,250.00 M435.04,414.10 L599.14,250.00 M439.40,414.10 L603.50,250.00 M443.76,414.10 L607.86,250.00 M448.12,414.10 L612.22,250.00 M452.48,414.10 L616.58,250.00 M456.84,414.10 L620.94,250.00 M461.20,414.10 L625.30,250.00 M465.56,414.10 L629.66,250.00 M469.92,414.10 L634.02,250.00 M474.28,414.10 L638.38,250.00 M478.64,414.10 L642.74,250.00 M483.00,414.10 L647.10,250.00 M487.36,414.10 L651.46,250.00 M491.72,414.10 L655.82,250.00 M496.08,414.10 L660.18,250.00 M500.44,414.10 L664.54,250.00 M504.80,414.10 L668.90,250.00 M509.16,414.10 L673.26,250.00 M513.52,414.10 L677.62,250.00 M517.88,414.10 L681.98,250.00 M522.24,414.10 L686.34,250.00 M526.60,414.10 L690.70,250.00 M530.96,414.10 L695.06,250.00 M535.32,414.10 L699.42,250.00" clip-path="url(#pd_c2)" stroke="#f5a325" stroke-width="1.10" fill="none"/>
<path d="M315.5,393.0 L346.6,347.5" fill="none" stroke="#fb0d12" stroke-width="2" stroke-linejoin="round"/>
<path d="M502.1,306.4 L533.2,393.0" fill="none" stroke="#fb0d12" stroke-width="2" stroke-linejoin="round"/>
<path d="M346.6,347.5 L377.7,336.6 L408.8,271.6 L408.8,281.0 L439.9,281.0 L471.0,253.0 L502.1,306.4" fill="none" stroke="#4a9cf0" stroke-width="1.75" stroke-linejoin="round"/>
<path d="M346.6,347.5 L377.7,336.6 L408.8,271.6 L408.8,281.0 L439.9,281.0 L471.0,253.0 L502.1,306.4" fill="none" stroke="#fb0d12" stroke-width="1.75" stroke-dasharray="9 12" stroke-dashoffset="15" stroke-linejoin="round"/>
<path class="ax" d="M315.5,252.2 V413.1 H533.2"/>
<path class="ax" d="M315.5,252.2 h3"/>
<text class="t10" x="298.1" y="255.5" textLength="13.2" lengthAdjust="spacingAndGlyphs">6.6</text>
<path class="ax" d="M315.5,279.0 h3"/>
<text class="t10" x="298.1" y="282.3" textLength="13.2" lengthAdjust="spacingAndGlyphs">6.0</text>
<path class="ax" d="M315.5,305.8 h3"/>
<text class="t10" x="298.1" y="309.1" textLength="13.2" lengthAdjust="spacingAndGlyphs">5.4</text>
<path class="ax" d="M315.5,332.6 h3"/>
<text class="t10" x="298.1" y="335.9" textLength="13.2" lengthAdjust="spacingAndGlyphs">4.8</text>
<path class="ax" d="M315.5,359.5 h3"/>
<text class="t10" x="298.1" y="362.8" textLength="13.2" lengthAdjust="spacingAndGlyphs">4.2</text>
<path class="ax" d="M315.5,386.3 h3"/>
<text class="t10" x="298.1" y="389.6" textLength="13.2" lengthAdjust="spacingAndGlyphs">3.6</text>
<path class="ax" d="M315.5,413.1 h3"/>
<text class="t10" x="298.1" y="416.4" textLength="13.2" lengthAdjust="spacingAndGlyphs">3.0</text>
<path class="ax" d="M315.5,413.1 v-3"/>
<text class="t10" x="306.4" y="424.8" textLength="18.1" lengthAdjust="spacingAndGlyphs">0:00</text>
<path class="ax" d="M346.6,413.1 v-3"/>
<text class="t10" x="337.6" y="424.8" textLength="18.1" lengthAdjust="spacingAndGlyphs">1:00</text>
<path class="ax" d="M377.7,413.1 v-3"/>
<text class="t10" x="368.6" y="424.8" textLength="18.1" lengthAdjust="spacingAndGlyphs">2:00</text>
<path class="ax" d="M408.8,413.1 v-3"/>
<text class="t10" x="399.8" y="424.8" textLength="18.1" lengthAdjust="spacingAndGlyphs">3:00</text>
<path class="ax" d="M439.9,413.1 v-3"/>
<text class="t10" x="430.9" y="424.8" textLength="18.1" lengthAdjust="spacingAndGlyphs">4:00</text>
<path class="ax" d="M471.0,413.1 v-3"/>
<text class="t10" x="461.9" y="424.8" textLength="18.1" lengthAdjust="spacingAndGlyphs">5:00</text>
<path class="ax" d="M502.1,413.1 v-3"/>
<text class="t10" x="493.1" y="424.8" textLength="18.1" lengthAdjust="spacingAndGlyphs">6:00</text>
<path class="ax" d="M533.2,413.1 v-3"/>
<text class="t10" x="524.2" y="424.8" textLength="18.1" lengthAdjust="spacingAndGlyphs">7:00</text>
<text x="412.1" y="438.3" font-size="11.8" textLength="24.8" lengthAdjust="spacingAndGlyphs">Time</text>
<text transform="translate(293.8,381.4) rotate(-90)" font-size="11" textLength="97.6" lengthAdjust="spacingAndGlyphs">Charging Power (kW)</text>
<text x="333.4" y="247.9" font-size="9.9" textLength="184.6" lengthAdjust="spacingAndGlyphs" stroke="#1a1a1a" stroke-width="0.10">Balance Charging Cost with Battery Life Area</text>
<line x1="449.4" y1="254.0" x2="459.0" y2="271.0" stroke="#111" stroke-width="0.95" marker-end="url(#ah)"/>
<text x="413.6" y="462.4" text-anchor="middle" font-size="12.4">(<tspan font-weight="bold">d</tspan>)</text>
</g>
</svg></body></html>
